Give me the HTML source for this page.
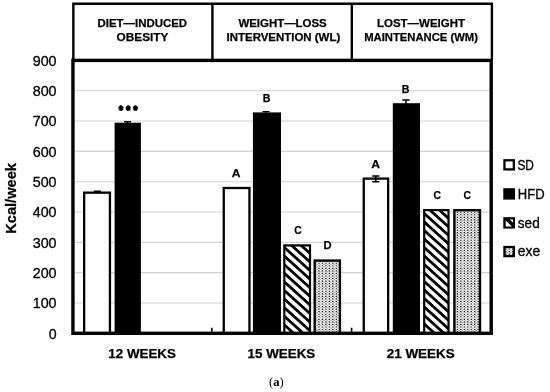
<!DOCTYPE html>
<html lang="en"><head><meta charset="utf-8"><title>Figure (a) Kcal/week</title>
<style>html,body{margin:0;padding:0;background:#fff}svg{display:block}</style>
</head><body>
<svg width="550" height="392" viewBox="0 0 550 392">
<defs>
<pattern id="hatch" patternUnits="userSpaceOnUse" width="10" height="8.5" patternTransform="translate(0 -0.38) skewY(42)">
<rect x="0" y="0" width="10" height="8.5" fill="#fff"/>
<rect x="0" y="0" width="10" height="3.7" fill="#000"/>
</pattern>
<pattern id="hatchA" patternUnits="userSpaceOnUse" width="10" height="8.6" patternTransform="translate(0 6.8) skewY(42)">
<rect x="0" y="0" width="10" height="8.6" fill="#fff"/>
<rect x="0" y="0" width="10" height="3.7" fill="#000"/>
</pattern>
</defs>
<rect x="0" y="0" width="550" height="392" fill="#fff"/>
<line x1="72.95" x2="491.2" y1="302.98" y2="302.98" stroke="#d2d2d2" stroke-width="1.1"/>
<line x1="72.95" x2="491.2" y1="272.66" y2="272.66" stroke="#d2d2d2" stroke-width="1.1"/>
<line x1="72.95" x2="491.2" y1="242.33" y2="242.33" stroke="#d2d2d2" stroke-width="1.1"/>
<line x1="72.95" x2="491.2" y1="212.01" y2="212.01" stroke="#d2d2d2" stroke-width="1.1"/>
<line x1="72.95" x2="491.2" y1="181.69" y2="181.69" stroke="#d2d2d2" stroke-width="1.1"/>
<line x1="72.95" x2="491.2" y1="151.37" y2="151.37" stroke="#d2d2d2" stroke-width="1.1"/>
<line x1="72.95" x2="491.2" y1="121.05" y2="121.05" stroke="#d2d2d2" stroke-width="1.1"/>
<line x1="72.95" x2="491.2" y1="90.72" y2="90.72" stroke="#d2d2d2" stroke-width="1.1"/>
<rect x="84.15" y="192.65" width="25.80" height="140.65" fill="#fff" stroke="#000" stroke-width="2.3"/>
<rect x="114.6" y="122.7" width="26.30" height="210.60" fill="#000"/>
<rect x="223.75" y="188.00" width="25.70" height="145.30" fill="#fff" stroke="#000" stroke-width="2.3"/>
<rect x="252.9" y="112.4" width="28.10" height="220.90" fill="#000"/>
<rect x="284.30" y="245.40" width="25.70" height="87.90" fill="url(#hatchA)" stroke="#000" stroke-width="2.2"/>
<rect x="314.70" y="260.60" width="25.20" height="72.70" fill="#fff"/>
<path d="M316.11 261.15h1.85v1.25h-1.85zM319.57 261.15h1.85v1.25h-1.85zM323.03 261.15h1.85v1.25h-1.85zM326.49 261.15h1.85v1.25h-1.85zM329.95 261.15h1.85v1.25h-1.85zM333.41 261.15h1.85v1.25h-1.85zM336.87 261.15h1.85v1.25h-1.85zM316.11 263.70h1.85v1.25h-1.85zM319.57 263.70h1.85v1.25h-1.85zM323.03 263.70h1.85v1.25h-1.85zM326.49 263.70h1.85v1.25h-1.85zM329.95 263.70h1.85v1.25h-1.85zM333.41 263.70h1.85v1.25h-1.85zM336.87 263.70h1.85v1.25h-1.85zM316.11 266.25h1.85v1.25h-1.85zM319.57 266.25h1.85v1.25h-1.85zM323.03 266.25h1.85v1.25h-1.85zM326.49 266.25h1.85v1.25h-1.85zM329.95 266.25h1.85v1.25h-1.85zM333.41 266.25h1.85v1.25h-1.85zM336.87 266.25h1.85v1.25h-1.85zM316.11 268.80h1.85v1.25h-1.85zM319.57 268.80h1.85v1.25h-1.85zM323.03 268.80h1.85v1.25h-1.85zM326.49 268.80h1.85v1.25h-1.85zM329.95 268.80h1.85v1.25h-1.85zM333.41 268.80h1.85v1.25h-1.85zM336.87 268.80h1.85v1.25h-1.85zM316.11 271.35h1.85v1.25h-1.85zM319.57 271.35h1.85v1.25h-1.85zM323.03 271.35h1.85v1.25h-1.85zM326.49 271.35h1.85v1.25h-1.85zM329.95 271.35h1.85v1.25h-1.85zM333.41 271.35h1.85v1.25h-1.85zM336.87 271.35h1.85v1.25h-1.85zM316.11 273.90h1.85v1.25h-1.85zM319.57 273.90h1.85v1.25h-1.85zM323.03 273.90h1.85v1.25h-1.85zM326.49 273.90h1.85v1.25h-1.85zM329.95 273.90h1.85v1.25h-1.85zM333.41 273.90h1.85v1.25h-1.85zM336.87 273.90h1.85v1.25h-1.85zM316.11 276.45h1.85v1.25h-1.85zM319.57 276.45h1.85v1.25h-1.85zM323.03 276.45h1.85v1.25h-1.85zM326.49 276.45h1.85v1.25h-1.85zM329.95 276.45h1.85v1.25h-1.85zM333.41 276.45h1.85v1.25h-1.85zM336.87 276.45h1.85v1.25h-1.85zM316.11 279.00h1.85v1.25h-1.85zM319.57 279.00h1.85v1.25h-1.85zM323.03 279.00h1.85v1.25h-1.85zM326.49 279.00h1.85v1.25h-1.85zM329.95 279.00h1.85v1.25h-1.85zM333.41 279.00h1.85v1.25h-1.85zM336.87 279.00h1.85v1.25h-1.85zM316.11 281.55h1.85v1.25h-1.85zM319.57 281.55h1.85v1.25h-1.85zM323.03 281.55h1.85v1.25h-1.85zM326.49 281.55h1.85v1.25h-1.85zM329.95 281.55h1.85v1.25h-1.85zM333.41 281.55h1.85v1.25h-1.85zM336.87 281.55h1.85v1.25h-1.85zM316.11 284.10h1.85v1.25h-1.85zM319.57 284.10h1.85v1.25h-1.85zM323.03 284.10h1.85v1.25h-1.85zM326.49 284.10h1.85v1.25h-1.85zM329.95 284.10h1.85v1.25h-1.85zM333.41 284.10h1.85v1.25h-1.85zM336.87 284.10h1.85v1.25h-1.85zM316.11 286.65h1.85v1.25h-1.85zM319.57 286.65h1.85v1.25h-1.85zM323.03 286.65h1.85v1.25h-1.85zM326.49 286.65h1.85v1.25h-1.85zM329.95 286.65h1.85v1.25h-1.85zM333.41 286.65h1.85v1.25h-1.85zM336.87 286.65h1.85v1.25h-1.85zM316.11 289.20h1.85v1.25h-1.85zM319.57 289.20h1.85v1.25h-1.85zM323.03 289.20h1.85v1.25h-1.85zM326.49 289.20h1.85v1.25h-1.85zM329.95 289.20h1.85v1.25h-1.85zM333.41 289.20h1.85v1.25h-1.85zM336.87 289.20h1.85v1.25h-1.85zM316.11 291.75h1.85v1.25h-1.85zM319.57 291.75h1.85v1.25h-1.85zM323.03 291.75h1.85v1.25h-1.85zM326.49 291.75h1.85v1.25h-1.85zM329.95 291.75h1.85v1.25h-1.85zM333.41 291.75h1.85v1.25h-1.85zM336.87 291.75h1.85v1.25h-1.85zM316.11 294.30h1.85v1.25h-1.85zM319.57 294.30h1.85v1.25h-1.85zM323.03 294.30h1.85v1.25h-1.85zM326.49 294.30h1.85v1.25h-1.85zM329.95 294.30h1.85v1.25h-1.85zM333.41 294.30h1.85v1.25h-1.85zM336.87 294.30h1.85v1.25h-1.85zM316.11 296.85h1.85v1.25h-1.85zM319.57 296.85h1.85v1.25h-1.85zM323.03 296.85h1.85v1.25h-1.85zM326.49 296.85h1.85v1.25h-1.85zM329.95 296.85h1.85v1.25h-1.85zM333.41 296.85h1.85v1.25h-1.85zM336.87 296.85h1.85v1.25h-1.85zM316.11 299.40h1.85v1.25h-1.85zM319.57 299.40h1.85v1.25h-1.85zM323.03 299.40h1.85v1.25h-1.85zM326.49 299.40h1.85v1.25h-1.85zM329.95 299.40h1.85v1.25h-1.85zM333.41 299.40h1.85v1.25h-1.85zM336.87 299.40h1.85v1.25h-1.85zM316.11 301.95h1.85v1.25h-1.85zM319.57 301.95h1.85v1.25h-1.85zM323.03 301.95h1.85v1.25h-1.85zM326.49 301.95h1.85v1.25h-1.85zM329.95 301.95h1.85v1.25h-1.85zM333.41 301.95h1.85v1.25h-1.85zM336.87 301.95h1.85v1.25h-1.85zM316.11 304.50h1.85v1.25h-1.85zM319.57 304.50h1.85v1.25h-1.85zM323.03 304.50h1.85v1.25h-1.85zM326.49 304.50h1.85v1.25h-1.85zM329.95 304.50h1.85v1.25h-1.85zM333.41 304.50h1.85v1.25h-1.85zM336.87 304.50h1.85v1.25h-1.85zM316.11 307.05h1.85v1.25h-1.85zM319.57 307.05h1.85v1.25h-1.85zM323.03 307.05h1.85v1.25h-1.85zM326.49 307.05h1.85v1.25h-1.85zM329.95 307.05h1.85v1.25h-1.85zM333.41 307.05h1.85v1.25h-1.85zM336.87 307.05h1.85v1.25h-1.85zM316.11 309.60h1.85v1.25h-1.85zM319.57 309.60h1.85v1.25h-1.85zM323.03 309.60h1.85v1.25h-1.85zM326.49 309.60h1.85v1.25h-1.85zM329.95 309.60h1.85v1.25h-1.85zM333.41 309.60h1.85v1.25h-1.85zM336.87 309.60h1.85v1.25h-1.85zM316.11 312.15h1.85v1.25h-1.85zM319.57 312.15h1.85v1.25h-1.85zM323.03 312.15h1.85v1.25h-1.85zM326.49 312.15h1.85v1.25h-1.85zM329.95 312.15h1.85v1.25h-1.85zM333.41 312.15h1.85v1.25h-1.85zM336.87 312.15h1.85v1.25h-1.85zM316.11 314.70h1.85v1.25h-1.85zM319.57 314.70h1.85v1.25h-1.85zM323.03 314.70h1.85v1.25h-1.85zM326.49 314.70h1.85v1.25h-1.85zM329.95 314.70h1.85v1.25h-1.85zM333.41 314.70h1.85v1.25h-1.85zM336.87 314.70h1.85v1.25h-1.85zM316.11 317.25h1.85v1.25h-1.85zM319.57 317.25h1.85v1.25h-1.85zM323.03 317.25h1.85v1.25h-1.85zM326.49 317.25h1.85v1.25h-1.85zM329.95 317.25h1.85v1.25h-1.85zM333.41 317.25h1.85v1.25h-1.85zM336.87 317.25h1.85v1.25h-1.85zM316.11 319.80h1.85v1.25h-1.85zM319.57 319.80h1.85v1.25h-1.85zM323.03 319.80h1.85v1.25h-1.85zM326.49 319.80h1.85v1.25h-1.85zM329.95 319.80h1.85v1.25h-1.85zM333.41 319.80h1.85v1.25h-1.85zM336.87 319.80h1.85v1.25h-1.85zM316.11 322.35h1.85v1.25h-1.85zM319.57 322.35h1.85v1.25h-1.85zM323.03 322.35h1.85v1.25h-1.85zM326.49 322.35h1.85v1.25h-1.85zM329.95 322.35h1.85v1.25h-1.85zM333.41 322.35h1.85v1.25h-1.85zM336.87 322.35h1.85v1.25h-1.85zM316.11 324.90h1.85v1.25h-1.85zM319.57 324.90h1.85v1.25h-1.85zM323.03 324.90h1.85v1.25h-1.85zM326.49 324.90h1.85v1.25h-1.85zM329.95 324.90h1.85v1.25h-1.85zM333.41 324.90h1.85v1.25h-1.85zM336.87 324.90h1.85v1.25h-1.85zM316.11 327.45h1.85v1.25h-1.85zM319.57 327.45h1.85v1.25h-1.85zM323.03 327.45h1.85v1.25h-1.85zM326.49 327.45h1.85v1.25h-1.85zM329.95 327.45h1.85v1.25h-1.85zM333.41 327.45h1.85v1.25h-1.85zM336.87 327.45h1.85v1.25h-1.85zM316.11 330.00h1.85v1.25h-1.85zM319.57 330.00h1.85v1.25h-1.85zM323.03 330.00h1.85v1.25h-1.85zM326.49 330.00h1.85v1.25h-1.85zM329.95 330.00h1.85v1.25h-1.85zM333.41 330.00h1.85v1.25h-1.85zM336.87 330.00h1.85v1.25h-1.85zM316.11 332.55h1.85v0.75h-1.85zM319.57 332.55h1.85v0.75h-1.85zM323.03 332.55h1.85v0.75h-1.85zM326.49 332.55h1.85v0.75h-1.85zM329.95 332.55h1.85v0.75h-1.85zM333.41 332.55h1.85v0.75h-1.85zM336.87 332.55h1.85v0.75h-1.85z" fill="#b0b0b0"/>
<path d="M314.86 260.60h1.30v0.65h-1.30zM318.32 260.60h1.30v0.65h-1.30zM321.78 260.60h1.30v0.65h-1.30zM325.24 260.60h1.30v0.65h-1.30zM328.70 260.60h1.30v0.65h-1.30zM332.16 260.60h1.30v0.65h-1.30zM335.62 260.60h1.30v0.65h-1.30zM339.08 260.60h0.82v0.65h-0.82zM314.86 262.65h1.30v1.15h-1.30zM318.32 262.65h1.30v1.15h-1.30zM321.78 262.65h1.30v1.15h-1.30zM325.24 262.65h1.30v1.15h-1.30zM328.70 262.65h1.30v1.15h-1.30zM332.16 262.65h1.30v1.15h-1.30zM335.62 262.65h1.30v1.15h-1.30zM339.08 262.65h0.82v1.15h-0.82zM314.86 265.20h1.30v1.15h-1.30zM318.32 265.20h1.30v1.15h-1.30zM321.78 265.20h1.30v1.15h-1.30zM325.24 265.20h1.30v1.15h-1.30zM328.70 265.20h1.30v1.15h-1.30zM332.16 265.20h1.30v1.15h-1.30zM335.62 265.20h1.30v1.15h-1.30zM339.08 265.20h0.82v1.15h-0.82zM314.86 267.75h1.30v1.15h-1.30zM318.32 267.75h1.30v1.15h-1.30zM321.78 267.75h1.30v1.15h-1.30zM325.24 267.75h1.30v1.15h-1.30zM328.70 267.75h1.30v1.15h-1.30zM332.16 267.75h1.30v1.15h-1.30zM335.62 267.75h1.30v1.15h-1.30zM339.08 267.75h0.82v1.15h-0.82zM314.86 270.30h1.30v1.15h-1.30zM318.32 270.30h1.30v1.15h-1.30zM321.78 270.30h1.30v1.15h-1.30zM325.24 270.30h1.30v1.15h-1.30zM328.70 270.30h1.30v1.15h-1.30zM332.16 270.30h1.30v1.15h-1.30zM335.62 270.30h1.30v1.15h-1.30zM339.08 270.30h0.82v1.15h-0.82zM314.86 272.85h1.30v1.15h-1.30zM318.32 272.85h1.30v1.15h-1.30zM321.78 272.85h1.30v1.15h-1.30zM325.24 272.85h1.30v1.15h-1.30zM328.70 272.85h1.30v1.15h-1.30zM332.16 272.85h1.30v1.15h-1.30zM335.62 272.85h1.30v1.15h-1.30zM339.08 272.85h0.82v1.15h-0.82zM314.86 275.40h1.30v1.15h-1.30zM318.32 275.40h1.30v1.15h-1.30zM321.78 275.40h1.30v1.15h-1.30zM325.24 275.40h1.30v1.15h-1.30zM328.70 275.40h1.30v1.15h-1.30zM332.16 275.40h1.30v1.15h-1.30zM335.62 275.40h1.30v1.15h-1.30zM339.08 275.40h0.82v1.15h-0.82zM314.86 277.95h1.30v1.15h-1.30zM318.32 277.95h1.30v1.15h-1.30zM321.78 277.95h1.30v1.15h-1.30zM325.24 277.95h1.30v1.15h-1.30zM328.70 277.95h1.30v1.15h-1.30zM332.16 277.95h1.30v1.15h-1.30zM335.62 277.95h1.30v1.15h-1.30zM339.08 277.95h0.82v1.15h-0.82zM314.86 280.50h1.30v1.15h-1.30zM318.32 280.50h1.30v1.15h-1.30zM321.78 280.50h1.30v1.15h-1.30zM325.24 280.50h1.30v1.15h-1.30zM328.70 280.50h1.30v1.15h-1.30zM332.16 280.50h1.30v1.15h-1.30zM335.62 280.50h1.30v1.15h-1.30zM339.08 280.50h0.82v1.15h-0.82zM314.86 283.05h1.30v1.15h-1.30zM318.32 283.05h1.30v1.15h-1.30zM321.78 283.05h1.30v1.15h-1.30zM325.24 283.05h1.30v1.15h-1.30zM328.70 283.05h1.30v1.15h-1.30zM332.16 283.05h1.30v1.15h-1.30zM335.62 283.05h1.30v1.15h-1.30zM339.08 283.05h0.82v1.15h-0.82zM314.86 285.60h1.30v1.15h-1.30zM318.32 285.60h1.30v1.15h-1.30zM321.78 285.60h1.30v1.15h-1.30zM325.24 285.60h1.30v1.15h-1.30zM328.70 285.60h1.30v1.15h-1.30zM332.16 285.60h1.30v1.15h-1.30zM335.62 285.60h1.30v1.15h-1.30zM339.08 285.60h0.82v1.15h-0.82zM314.86 288.15h1.30v1.15h-1.30zM318.32 288.15h1.30v1.15h-1.30zM321.78 288.15h1.30v1.15h-1.30zM325.24 288.15h1.30v1.15h-1.30zM328.70 288.15h1.30v1.15h-1.30zM332.16 288.15h1.30v1.15h-1.30zM335.62 288.15h1.30v1.15h-1.30zM339.08 288.15h0.82v1.15h-0.82zM314.86 290.70h1.30v1.15h-1.30zM318.32 290.70h1.30v1.15h-1.30zM321.78 290.70h1.30v1.15h-1.30zM325.24 290.70h1.30v1.15h-1.30zM328.70 290.70h1.30v1.15h-1.30zM332.16 290.70h1.30v1.15h-1.30zM335.62 290.70h1.30v1.15h-1.30zM339.08 290.70h0.82v1.15h-0.82zM314.86 293.25h1.30v1.15h-1.30zM318.32 293.25h1.30v1.15h-1.30zM321.78 293.25h1.30v1.15h-1.30zM325.24 293.25h1.30v1.15h-1.30zM328.70 293.25h1.30v1.15h-1.30zM332.16 293.25h1.30v1.15h-1.30zM335.62 293.25h1.30v1.15h-1.30zM339.08 293.25h0.82v1.15h-0.82zM314.86 295.80h1.30v1.15h-1.30zM318.32 295.80h1.30v1.15h-1.30zM321.78 295.80h1.30v1.15h-1.30zM325.24 295.80h1.30v1.15h-1.30zM328.70 295.80h1.30v1.15h-1.30zM332.16 295.80h1.30v1.15h-1.30zM335.62 295.80h1.30v1.15h-1.30zM339.08 295.80h0.82v1.15h-0.82zM314.86 298.35h1.30v1.15h-1.30zM318.32 298.35h1.30v1.15h-1.30zM321.78 298.35h1.30v1.15h-1.30zM325.24 298.35h1.30v1.15h-1.30zM328.70 298.35h1.30v1.15h-1.30zM332.16 298.35h1.30v1.15h-1.30zM335.62 298.35h1.30v1.15h-1.30zM339.08 298.35h0.82v1.15h-0.82zM314.86 300.90h1.30v1.15h-1.30zM318.32 300.90h1.30v1.15h-1.30zM321.78 300.90h1.30v1.15h-1.30zM325.24 300.90h1.30v1.15h-1.30zM328.70 300.90h1.30v1.15h-1.30zM332.16 300.90h1.30v1.15h-1.30zM335.62 300.90h1.30v1.15h-1.30zM339.08 300.90h0.82v1.15h-0.82zM314.86 303.45h1.30v1.15h-1.30zM318.32 303.45h1.30v1.15h-1.30zM321.78 303.45h1.30v1.15h-1.30zM325.24 303.45h1.30v1.15h-1.30zM328.70 303.45h1.30v1.15h-1.30zM332.16 303.45h1.30v1.15h-1.30zM335.62 303.45h1.30v1.15h-1.30zM339.08 303.45h0.82v1.15h-0.82zM314.86 306.00h1.30v1.15h-1.30zM318.32 306.00h1.30v1.15h-1.30zM321.78 306.00h1.30v1.15h-1.30zM325.24 306.00h1.30v1.15h-1.30zM328.70 306.00h1.30v1.15h-1.30zM332.16 306.00h1.30v1.15h-1.30zM335.62 306.00h1.30v1.15h-1.30zM339.08 306.00h0.82v1.15h-0.82zM314.86 308.55h1.30v1.15h-1.30zM318.32 308.55h1.30v1.15h-1.30zM321.78 308.55h1.30v1.15h-1.30zM325.24 308.55h1.30v1.15h-1.30zM328.70 308.55h1.30v1.15h-1.30zM332.16 308.55h1.30v1.15h-1.30zM335.62 308.55h1.30v1.15h-1.30zM339.08 308.55h0.82v1.15h-0.82zM314.86 311.10h1.30v1.15h-1.30zM318.32 311.10h1.30v1.15h-1.30zM321.78 311.10h1.30v1.15h-1.30zM325.24 311.10h1.30v1.15h-1.30zM328.70 311.10h1.30v1.15h-1.30zM332.16 311.10h1.30v1.15h-1.30zM335.62 311.10h1.30v1.15h-1.30zM339.08 311.10h0.82v1.15h-0.82zM314.86 313.65h1.30v1.15h-1.30zM318.32 313.65h1.30v1.15h-1.30zM321.78 313.65h1.30v1.15h-1.30zM325.24 313.65h1.30v1.15h-1.30zM328.70 313.65h1.30v1.15h-1.30zM332.16 313.65h1.30v1.15h-1.30zM335.62 313.65h1.30v1.15h-1.30zM339.08 313.65h0.82v1.15h-0.82zM314.86 316.20h1.30v1.15h-1.30zM318.32 316.20h1.30v1.15h-1.30zM321.78 316.20h1.30v1.15h-1.30zM325.24 316.20h1.30v1.15h-1.30zM328.70 316.20h1.30v1.15h-1.30zM332.16 316.20h1.30v1.15h-1.30zM335.62 316.20h1.30v1.15h-1.30zM339.08 316.20h0.82v1.15h-0.82zM314.86 318.75h1.30v1.15h-1.30zM318.32 318.75h1.30v1.15h-1.30zM321.78 318.75h1.30v1.15h-1.30zM325.24 318.75h1.30v1.15h-1.30zM328.70 318.75h1.30v1.15h-1.30zM332.16 318.75h1.30v1.15h-1.30zM335.62 318.75h1.30v1.15h-1.30zM339.08 318.75h0.82v1.15h-0.82zM314.86 321.30h1.30v1.15h-1.30zM318.32 321.30h1.30v1.15h-1.30zM321.78 321.30h1.30v1.15h-1.30zM325.24 321.30h1.30v1.15h-1.30zM328.70 321.30h1.30v1.15h-1.30zM332.16 321.30h1.30v1.15h-1.30zM335.62 321.30h1.30v1.15h-1.30zM339.08 321.30h0.82v1.15h-0.82zM314.86 323.85h1.30v1.15h-1.30zM318.32 323.85h1.30v1.15h-1.30zM321.78 323.85h1.30v1.15h-1.30zM325.24 323.85h1.30v1.15h-1.30zM328.70 323.85h1.30v1.15h-1.30zM332.16 323.85h1.30v1.15h-1.30zM335.62 323.85h1.30v1.15h-1.30zM339.08 323.85h0.82v1.15h-0.82zM314.86 326.40h1.30v1.15h-1.30zM318.32 326.40h1.30v1.15h-1.30zM321.78 326.40h1.30v1.15h-1.30zM325.24 326.40h1.30v1.15h-1.30zM328.70 326.40h1.30v1.15h-1.30zM332.16 326.40h1.30v1.15h-1.30zM335.62 326.40h1.30v1.15h-1.30zM339.08 326.40h0.82v1.15h-0.82zM314.86 328.95h1.30v1.15h-1.30zM318.32 328.95h1.30v1.15h-1.30zM321.78 328.95h1.30v1.15h-1.30zM325.24 328.95h1.30v1.15h-1.30zM328.70 328.95h1.30v1.15h-1.30zM332.16 328.95h1.30v1.15h-1.30zM335.62 328.95h1.30v1.15h-1.30zM339.08 328.95h0.82v1.15h-0.82zM314.86 331.50h1.30v1.15h-1.30zM318.32 331.50h1.30v1.15h-1.30zM321.78 331.50h1.30v1.15h-1.30zM325.24 331.50h1.30v1.15h-1.30zM328.70 331.50h1.30v1.15h-1.30zM332.16 331.50h1.30v1.15h-1.30zM335.62 331.50h1.30v1.15h-1.30zM339.08 331.50h0.82v1.15h-0.82z" fill="#000"/>
<rect x="314.70" y="260.60" width="25.20" height="72.70" fill="none" stroke="#000" stroke-width="2.4"/>
<rect x="363.75" y="178.60" width="24.40" height="154.70" fill="#fff" stroke="#000" stroke-width="2.3"/>
<rect x="392.8" y="103.2" width="27.20" height="230.10" fill="#000"/>
<rect x="424.20" y="210.10" width="24.30" height="123.20" fill="url(#hatch)" stroke="#000" stroke-width="2.2"/>
<rect x="454.40" y="210.20" width="25.60" height="123.10" fill="#fff"/>
<path d="M454.51 210.20h1.85v1.20h-1.85zM457.97 210.20h1.85v1.20h-1.85zM461.43 210.20h1.85v1.20h-1.85zM464.89 210.20h1.85v1.20h-1.85zM468.35 210.20h1.85v1.20h-1.85zM471.81 210.20h1.85v1.20h-1.85zM475.27 210.20h1.85v1.20h-1.85zM478.73 210.20h1.27v1.20h-1.27zM454.51 212.70h1.85v1.25h-1.85zM457.97 212.70h1.85v1.25h-1.85zM461.43 212.70h1.85v1.25h-1.85zM464.89 212.70h1.85v1.25h-1.85zM468.35 212.70h1.85v1.25h-1.85zM471.81 212.70h1.85v1.25h-1.85zM475.27 212.70h1.85v1.25h-1.85zM478.73 212.70h1.27v1.25h-1.27zM454.51 215.25h1.85v1.25h-1.85zM457.97 215.25h1.85v1.25h-1.85zM461.43 215.25h1.85v1.25h-1.85zM464.89 215.25h1.85v1.25h-1.85zM468.35 215.25h1.85v1.25h-1.85zM471.81 215.25h1.85v1.25h-1.85zM475.27 215.25h1.85v1.25h-1.85zM478.73 215.25h1.27v1.25h-1.27zM454.51 217.80h1.85v1.25h-1.85zM457.97 217.80h1.85v1.25h-1.85zM461.43 217.80h1.85v1.25h-1.85zM464.89 217.80h1.85v1.25h-1.85zM468.35 217.80h1.85v1.25h-1.85zM471.81 217.80h1.85v1.25h-1.85zM475.27 217.80h1.85v1.25h-1.85zM478.73 217.80h1.27v1.25h-1.27zM454.51 220.35h1.85v1.25h-1.85zM457.97 220.35h1.85v1.25h-1.85zM461.43 220.35h1.85v1.25h-1.85zM464.89 220.35h1.85v1.25h-1.85zM468.35 220.35h1.85v1.25h-1.85zM471.81 220.35h1.85v1.25h-1.85zM475.27 220.35h1.85v1.25h-1.85zM478.73 220.35h1.27v1.25h-1.27zM454.51 222.90h1.85v1.25h-1.85zM457.97 222.90h1.85v1.25h-1.85zM461.43 222.90h1.85v1.25h-1.85zM464.89 222.90h1.85v1.25h-1.85zM468.35 222.90h1.85v1.25h-1.85zM471.81 222.90h1.85v1.25h-1.85zM475.27 222.90h1.85v1.25h-1.85zM478.73 222.90h1.27v1.25h-1.27zM454.51 225.45h1.85v1.25h-1.85zM457.97 225.45h1.85v1.25h-1.85zM461.43 225.45h1.85v1.25h-1.85zM464.89 225.45h1.85v1.25h-1.85zM468.35 225.45h1.85v1.25h-1.85zM471.81 225.45h1.85v1.25h-1.85zM475.27 225.45h1.85v1.25h-1.85zM478.73 225.45h1.27v1.25h-1.27zM454.51 228.00h1.85v1.25h-1.85zM457.97 228.00h1.85v1.25h-1.85zM461.43 228.00h1.85v1.25h-1.85zM464.89 228.00h1.85v1.25h-1.85zM468.35 228.00h1.85v1.25h-1.85zM471.81 228.00h1.85v1.25h-1.85zM475.27 228.00h1.85v1.25h-1.85zM478.73 228.00h1.27v1.25h-1.27zM454.51 230.55h1.85v1.25h-1.85zM457.97 230.55h1.85v1.25h-1.85zM461.43 230.55h1.85v1.25h-1.85zM464.89 230.55h1.85v1.25h-1.85zM468.35 230.55h1.85v1.25h-1.85zM471.81 230.55h1.85v1.25h-1.85zM475.27 230.55h1.85v1.25h-1.85zM478.73 230.55h1.27v1.25h-1.27zM454.51 233.10h1.85v1.25h-1.85zM457.97 233.10h1.85v1.25h-1.85zM461.43 233.10h1.85v1.25h-1.85zM464.89 233.10h1.85v1.25h-1.85zM468.35 233.10h1.85v1.25h-1.85zM471.81 233.10h1.85v1.25h-1.85zM475.27 233.10h1.85v1.25h-1.85zM478.73 233.10h1.27v1.25h-1.27zM454.51 235.65h1.85v1.25h-1.85zM457.97 235.65h1.85v1.25h-1.85zM461.43 235.65h1.85v1.25h-1.85zM464.89 235.65h1.85v1.25h-1.85zM468.35 235.65h1.85v1.25h-1.85zM471.81 235.65h1.85v1.25h-1.85zM475.27 235.65h1.85v1.25h-1.85zM478.73 235.65h1.27v1.25h-1.27zM454.51 238.20h1.85v1.25h-1.85zM457.97 238.20h1.85v1.25h-1.85zM461.43 238.20h1.85v1.25h-1.85zM464.89 238.20h1.85v1.25h-1.85zM468.35 238.20h1.85v1.25h-1.85zM471.81 238.20h1.85v1.25h-1.85zM475.27 238.20h1.85v1.25h-1.85zM478.73 238.20h1.27v1.25h-1.27zM454.51 240.75h1.85v1.25h-1.85zM457.97 240.75h1.85v1.25h-1.85zM461.43 240.75h1.85v1.25h-1.85zM464.89 240.75h1.85v1.25h-1.85zM468.35 240.75h1.85v1.25h-1.85zM471.81 240.75h1.85v1.25h-1.85zM475.27 240.75h1.85v1.25h-1.85zM478.73 240.75h1.27v1.25h-1.27zM454.51 243.30h1.85v1.25h-1.85zM457.97 243.30h1.85v1.25h-1.85zM461.43 243.30h1.85v1.25h-1.85zM464.89 243.30h1.85v1.25h-1.85zM468.35 243.30h1.85v1.25h-1.85zM471.81 243.30h1.85v1.25h-1.85zM475.27 243.30h1.85v1.25h-1.85zM478.73 243.30h1.27v1.25h-1.27zM454.51 245.85h1.85v1.25h-1.85zM457.97 245.85h1.85v1.25h-1.85zM461.43 245.85h1.85v1.25h-1.85zM464.89 245.85h1.85v1.25h-1.85zM468.35 245.85h1.85v1.25h-1.85zM471.81 245.85h1.85v1.25h-1.85zM475.27 245.85h1.85v1.25h-1.85zM478.73 245.85h1.27v1.25h-1.27zM454.51 248.40h1.85v1.25h-1.85zM457.97 248.40h1.85v1.25h-1.85zM461.43 248.40h1.85v1.25h-1.85zM464.89 248.40h1.85v1.25h-1.85zM468.35 248.40h1.85v1.25h-1.85zM471.81 248.40h1.85v1.25h-1.85zM475.27 248.40h1.85v1.25h-1.85zM478.73 248.40h1.27v1.25h-1.27zM454.51 250.95h1.85v1.25h-1.85zM457.97 250.95h1.85v1.25h-1.85zM461.43 250.95h1.85v1.25h-1.85zM464.89 250.95h1.85v1.25h-1.85zM468.35 250.95h1.85v1.25h-1.85zM471.81 250.95h1.85v1.25h-1.85zM475.27 250.95h1.85v1.25h-1.85zM478.73 250.95h1.27v1.25h-1.27zM454.51 253.50h1.85v1.25h-1.85zM457.97 253.50h1.85v1.25h-1.85zM461.43 253.50h1.85v1.25h-1.85zM464.89 253.50h1.85v1.25h-1.85zM468.35 253.50h1.85v1.25h-1.85zM471.81 253.50h1.85v1.25h-1.85zM475.27 253.50h1.85v1.25h-1.85zM478.73 253.50h1.27v1.25h-1.27zM454.51 256.05h1.85v1.25h-1.85zM457.97 256.05h1.85v1.25h-1.85zM461.43 256.05h1.85v1.25h-1.85zM464.89 256.05h1.85v1.25h-1.85zM468.35 256.05h1.85v1.25h-1.85zM471.81 256.05h1.85v1.25h-1.85zM475.27 256.05h1.85v1.25h-1.85zM478.73 256.05h1.27v1.25h-1.27zM454.51 258.60h1.85v1.25h-1.85zM457.97 258.60h1.85v1.25h-1.85zM461.43 258.60h1.85v1.25h-1.85zM464.89 258.60h1.85v1.25h-1.85zM468.35 258.60h1.85v1.25h-1.85zM471.81 258.60h1.85v1.25h-1.85zM475.27 258.60h1.85v1.25h-1.85zM478.73 258.60h1.27v1.25h-1.27zM454.51 261.15h1.85v1.25h-1.85zM457.97 261.15h1.85v1.25h-1.85zM461.43 261.15h1.85v1.25h-1.85zM464.89 261.15h1.85v1.25h-1.85zM468.35 261.15h1.85v1.25h-1.85zM471.81 261.15h1.85v1.25h-1.85zM475.27 261.15h1.85v1.25h-1.85zM478.73 261.15h1.27v1.25h-1.27zM454.51 263.70h1.85v1.25h-1.85zM457.97 263.70h1.85v1.25h-1.85zM461.43 263.70h1.85v1.25h-1.85zM464.89 263.70h1.85v1.25h-1.85zM468.35 263.70h1.85v1.25h-1.85zM471.81 263.70h1.85v1.25h-1.85zM475.27 263.70h1.85v1.25h-1.85zM478.73 263.70h1.27v1.25h-1.27zM454.51 266.25h1.85v1.25h-1.85zM457.97 266.25h1.85v1.25h-1.85zM461.43 266.25h1.85v1.25h-1.85zM464.89 266.25h1.85v1.25h-1.85zM468.35 266.25h1.85v1.25h-1.85zM471.81 266.25h1.85v1.25h-1.85zM475.27 266.25h1.85v1.25h-1.85zM478.73 266.25h1.27v1.25h-1.27zM454.51 268.80h1.85v1.25h-1.85zM457.97 268.80h1.85v1.25h-1.85zM461.43 268.80h1.85v1.25h-1.85zM464.89 268.80h1.85v1.25h-1.85zM468.35 268.80h1.85v1.25h-1.85zM471.81 268.80h1.85v1.25h-1.85zM475.27 268.80h1.85v1.25h-1.85zM478.73 268.80h1.27v1.25h-1.27zM454.51 271.35h1.85v1.25h-1.85zM457.97 271.35h1.85v1.25h-1.85zM461.43 271.35h1.85v1.25h-1.85zM464.89 271.35h1.85v1.25h-1.85zM468.35 271.35h1.85v1.25h-1.85zM471.81 271.35h1.85v1.25h-1.85zM475.27 271.35h1.85v1.25h-1.85zM478.73 271.35h1.27v1.25h-1.27zM454.51 273.90h1.85v1.25h-1.85zM457.97 273.90h1.85v1.25h-1.85zM461.43 273.90h1.85v1.25h-1.85zM464.89 273.90h1.85v1.25h-1.85zM468.35 273.90h1.85v1.25h-1.85zM471.81 273.90h1.85v1.25h-1.85zM475.27 273.90h1.85v1.25h-1.85zM478.73 273.90h1.27v1.25h-1.27zM454.51 276.45h1.85v1.25h-1.85zM457.97 276.45h1.85v1.25h-1.85zM461.43 276.45h1.85v1.25h-1.85zM464.89 276.45h1.85v1.25h-1.85zM468.35 276.45h1.85v1.25h-1.85zM471.81 276.45h1.85v1.25h-1.85zM475.27 276.45h1.85v1.25h-1.85zM478.73 276.45h1.27v1.25h-1.27zM454.51 279.00h1.85v1.25h-1.85zM457.97 279.00h1.85v1.25h-1.85zM461.43 279.00h1.85v1.25h-1.85zM464.89 279.00h1.85v1.25h-1.85zM468.35 279.00h1.85v1.25h-1.85zM471.81 279.00h1.85v1.25h-1.85zM475.27 279.00h1.85v1.25h-1.85zM478.73 279.00h1.27v1.25h-1.27zM454.51 281.55h1.85v1.25h-1.85zM457.97 281.55h1.85v1.25h-1.85zM461.43 281.55h1.85v1.25h-1.85zM464.89 281.55h1.85v1.25h-1.85zM468.35 281.55h1.85v1.25h-1.85zM471.81 281.55h1.85v1.25h-1.85zM475.27 281.55h1.85v1.25h-1.85zM478.73 281.55h1.27v1.25h-1.27zM454.51 284.10h1.85v1.25h-1.85zM457.97 284.10h1.85v1.25h-1.85zM461.43 284.10h1.85v1.25h-1.85zM464.89 284.10h1.85v1.25h-1.85zM468.35 284.10h1.85v1.25h-1.85zM471.81 284.10h1.85v1.25h-1.85zM475.27 284.10h1.85v1.25h-1.85zM478.73 284.10h1.27v1.25h-1.27zM454.51 286.65h1.85v1.25h-1.85zM457.97 286.65h1.85v1.25h-1.85zM461.43 286.65h1.85v1.25h-1.85zM464.89 286.65h1.85v1.25h-1.85zM468.35 286.65h1.85v1.25h-1.85zM471.81 286.65h1.85v1.25h-1.85zM475.27 286.65h1.85v1.25h-1.85zM478.73 286.65h1.27v1.25h-1.27zM454.51 289.20h1.85v1.25h-1.85zM457.97 289.20h1.85v1.25h-1.85zM461.43 289.20h1.85v1.25h-1.85zM464.89 289.20h1.85v1.25h-1.85zM468.35 289.20h1.85v1.25h-1.85zM471.81 289.20h1.85v1.25h-1.85zM475.27 289.20h1.85v1.25h-1.85zM478.73 289.20h1.27v1.25h-1.27zM454.51 291.75h1.85v1.25h-1.85zM457.97 291.75h1.85v1.25h-1.85zM461.43 291.75h1.85v1.25h-1.85zM464.89 291.75h1.85v1.25h-1.85zM468.35 291.75h1.85v1.25h-1.85zM471.81 291.75h1.85v1.25h-1.85zM475.27 291.75h1.85v1.25h-1.85zM478.73 291.75h1.27v1.25h-1.27zM454.51 294.30h1.85v1.25h-1.85zM457.97 294.30h1.85v1.25h-1.85zM461.43 294.30h1.85v1.25h-1.85zM464.89 294.30h1.85v1.25h-1.85zM468.35 294.30h1.85v1.25h-1.85zM471.81 294.30h1.85v1.25h-1.85zM475.27 294.30h1.85v1.25h-1.85zM478.73 294.30h1.27v1.25h-1.27zM454.51 296.85h1.85v1.25h-1.85zM457.97 296.85h1.85v1.25h-1.85zM461.43 296.85h1.85v1.25h-1.85zM464.89 296.85h1.85v1.25h-1.85zM468.35 296.85h1.85v1.25h-1.85zM471.81 296.85h1.85v1.25h-1.85zM475.27 296.85h1.85v1.25h-1.85zM478.73 296.85h1.27v1.25h-1.27zM454.51 299.40h1.85v1.25h-1.85zM457.97 299.40h1.85v1.25h-1.85zM461.43 299.40h1.85v1.25h-1.85zM464.89 299.40h1.85v1.25h-1.85zM468.35 299.40h1.85v1.25h-1.85zM471.81 299.40h1.85v1.25h-1.85zM475.27 299.40h1.85v1.25h-1.85zM478.73 299.40h1.27v1.25h-1.27zM454.51 301.95h1.85v1.25h-1.85zM457.97 301.95h1.85v1.25h-1.85zM461.43 301.95h1.85v1.25h-1.85zM464.89 301.95h1.85v1.25h-1.85zM468.35 301.95h1.85v1.25h-1.85zM471.81 301.95h1.85v1.25h-1.85zM475.27 301.95h1.85v1.25h-1.85zM478.73 301.95h1.27v1.25h-1.27zM454.51 304.50h1.85v1.25h-1.85zM457.97 304.50h1.85v1.25h-1.85zM461.43 304.50h1.85v1.25h-1.85zM464.89 304.50h1.85v1.25h-1.85zM468.35 304.50h1.85v1.25h-1.85zM471.81 304.50h1.85v1.25h-1.85zM475.27 304.50h1.85v1.25h-1.85zM478.73 304.50h1.27v1.25h-1.27zM454.51 307.05h1.85v1.25h-1.85zM457.97 307.05h1.85v1.25h-1.85zM461.43 307.05h1.85v1.25h-1.85zM464.89 307.05h1.85v1.25h-1.85zM468.35 307.05h1.85v1.25h-1.85zM471.81 307.05h1.85v1.25h-1.85zM475.27 307.05h1.85v1.25h-1.85zM478.73 307.05h1.27v1.25h-1.27zM454.51 309.60h1.85v1.25h-1.85zM457.97 309.60h1.85v1.25h-1.85zM461.43 309.60h1.85v1.25h-1.85zM464.89 309.60h1.85v1.25h-1.85zM468.35 309.60h1.85v1.25h-1.85zM471.81 309.60h1.85v1.25h-1.85zM475.27 309.60h1.85v1.25h-1.85zM478.73 309.60h1.27v1.25h-1.27zM454.51 312.15h1.85v1.25h-1.85zM457.97 312.15h1.85v1.25h-1.85zM461.43 312.15h1.85v1.25h-1.85zM464.89 312.15h1.85v1.25h-1.85zM468.35 312.15h1.85v1.25h-1.85zM471.81 312.15h1.85v1.25h-1.85zM475.27 312.15h1.85v1.25h-1.85zM478.73 312.15h1.27v1.25h-1.27zM454.51 314.70h1.85v1.25h-1.85zM457.97 314.70h1.85v1.25h-1.85zM461.43 314.70h1.85v1.25h-1.85zM464.89 314.70h1.85v1.25h-1.85zM468.35 314.70h1.85v1.25h-1.85zM471.81 314.70h1.85v1.25h-1.85zM475.27 314.70h1.85v1.25h-1.85zM478.73 314.70h1.27v1.25h-1.27zM454.51 317.25h1.85v1.25h-1.85zM457.97 317.25h1.85v1.25h-1.85zM461.43 317.25h1.85v1.25h-1.85zM464.89 317.25h1.85v1.25h-1.85zM468.35 317.25h1.85v1.25h-1.85zM471.81 317.25h1.85v1.25h-1.85zM475.27 317.25h1.85v1.25h-1.85zM478.73 317.25h1.27v1.25h-1.27zM454.51 319.80h1.85v1.25h-1.85zM457.97 319.80h1.85v1.25h-1.85zM461.43 319.80h1.85v1.25h-1.85zM464.89 319.80h1.85v1.25h-1.85zM468.35 319.80h1.85v1.25h-1.85zM471.81 319.80h1.85v1.25h-1.85zM475.27 319.80h1.85v1.25h-1.85zM478.73 319.80h1.27v1.25h-1.27zM454.51 322.35h1.85v1.25h-1.85zM457.97 322.35h1.85v1.25h-1.85zM461.43 322.35h1.85v1.25h-1.85zM464.89 322.35h1.85v1.25h-1.85zM468.35 322.35h1.85v1.25h-1.85zM471.81 322.35h1.85v1.25h-1.85zM475.27 322.35h1.85v1.25h-1.85zM478.73 322.35h1.27v1.25h-1.27zM454.51 324.90h1.85v1.25h-1.85zM457.97 324.90h1.85v1.25h-1.85zM461.43 324.90h1.85v1.25h-1.85zM464.89 324.90h1.85v1.25h-1.85zM468.35 324.90h1.85v1.25h-1.85zM471.81 324.90h1.85v1.25h-1.85zM475.27 324.90h1.85v1.25h-1.85zM478.73 324.90h1.27v1.25h-1.27zM454.51 327.45h1.85v1.25h-1.85zM457.97 327.45h1.85v1.25h-1.85zM461.43 327.45h1.85v1.25h-1.85zM464.89 327.45h1.85v1.25h-1.85zM468.35 327.45h1.85v1.25h-1.85zM471.81 327.45h1.85v1.25h-1.85zM475.27 327.45h1.85v1.25h-1.85zM478.73 327.45h1.27v1.25h-1.27zM454.51 330.00h1.85v1.25h-1.85zM457.97 330.00h1.85v1.25h-1.85zM461.43 330.00h1.85v1.25h-1.85zM464.89 330.00h1.85v1.25h-1.85zM468.35 330.00h1.85v1.25h-1.85zM471.81 330.00h1.85v1.25h-1.85zM475.27 330.00h1.85v1.25h-1.85zM478.73 330.00h1.27v1.25h-1.27zM454.51 332.55h1.85v0.75h-1.85zM457.97 332.55h1.85v0.75h-1.85zM461.43 332.55h1.85v0.75h-1.85zM464.89 332.55h1.85v0.75h-1.85zM468.35 332.55h1.85v0.75h-1.85zM471.81 332.55h1.85v0.75h-1.85zM475.27 332.55h1.85v0.75h-1.85zM478.73 332.55h1.27v0.75h-1.27z" fill="#b0b0b0"/>
<path d="M454.40 210.20h0.16v0.05h-0.16zM456.72 210.20h1.30v0.05h-1.30zM460.18 210.20h1.30v0.05h-1.30zM463.64 210.20h1.30v0.05h-1.30zM467.10 210.20h1.30v0.05h-1.30zM470.56 210.20h1.30v0.05h-1.30zM474.02 210.20h1.30v0.05h-1.30zM477.48 210.20h1.30v0.05h-1.30zM454.40 211.65h0.16v1.15h-0.16zM456.72 211.65h1.30v1.15h-1.30zM460.18 211.65h1.30v1.15h-1.30zM463.64 211.65h1.30v1.15h-1.30zM467.10 211.65h1.30v1.15h-1.30zM470.56 211.65h1.30v1.15h-1.30zM474.02 211.65h1.30v1.15h-1.30zM477.48 211.65h1.30v1.15h-1.30zM454.40 214.20h0.16v1.15h-0.16zM456.72 214.20h1.30v1.15h-1.30zM460.18 214.20h1.30v1.15h-1.30zM463.64 214.20h1.30v1.15h-1.30zM467.10 214.20h1.30v1.15h-1.30zM470.56 214.20h1.30v1.15h-1.30zM474.02 214.20h1.30v1.15h-1.30zM477.48 214.20h1.30v1.15h-1.30zM454.40 216.75h0.16v1.15h-0.16zM456.72 216.75h1.30v1.15h-1.30zM460.18 216.75h1.30v1.15h-1.30zM463.64 216.75h1.30v1.15h-1.30zM467.10 216.75h1.30v1.15h-1.30zM470.56 216.75h1.30v1.15h-1.30zM474.02 216.75h1.30v1.15h-1.30zM477.48 216.75h1.30v1.15h-1.30zM454.40 219.30h0.16v1.15h-0.16zM456.72 219.30h1.30v1.15h-1.30zM460.18 219.30h1.30v1.15h-1.30zM463.64 219.30h1.30v1.15h-1.30zM467.10 219.30h1.30v1.15h-1.30zM470.56 219.30h1.30v1.15h-1.30zM474.02 219.30h1.30v1.15h-1.30zM477.48 219.30h1.30v1.15h-1.30zM454.40 221.85h0.16v1.15h-0.16zM456.72 221.85h1.30v1.15h-1.30zM460.18 221.85h1.30v1.15h-1.30zM463.64 221.85h1.30v1.15h-1.30zM467.10 221.85h1.30v1.15h-1.30zM470.56 221.85h1.30v1.15h-1.30zM474.02 221.85h1.30v1.15h-1.30zM477.48 221.85h1.30v1.15h-1.30zM454.40 224.40h0.16v1.15h-0.16zM456.72 224.40h1.30v1.15h-1.30zM460.18 224.40h1.30v1.15h-1.30zM463.64 224.40h1.30v1.15h-1.30zM467.10 224.40h1.30v1.15h-1.30zM470.56 224.40h1.30v1.15h-1.30zM474.02 224.40h1.30v1.15h-1.30zM477.48 224.40h1.30v1.15h-1.30zM454.40 226.95h0.16v1.15h-0.16zM456.72 226.95h1.30v1.15h-1.30zM460.18 226.95h1.30v1.15h-1.30zM463.64 226.95h1.30v1.15h-1.30zM467.10 226.95h1.30v1.15h-1.30zM470.56 226.95h1.30v1.15h-1.30zM474.02 226.95h1.30v1.15h-1.30zM477.48 226.95h1.30v1.15h-1.30zM454.40 229.50h0.16v1.15h-0.16zM456.72 229.50h1.30v1.15h-1.30zM460.18 229.50h1.30v1.15h-1.30zM463.64 229.50h1.30v1.15h-1.30zM467.10 229.50h1.30v1.15h-1.30zM470.56 229.50h1.30v1.15h-1.30zM474.02 229.50h1.30v1.15h-1.30zM477.48 229.50h1.30v1.15h-1.30zM454.40 232.05h0.16v1.15h-0.16zM456.72 232.05h1.30v1.15h-1.30zM460.18 232.05h1.30v1.15h-1.30zM463.64 232.05h1.30v1.15h-1.30zM467.10 232.05h1.30v1.15h-1.30zM470.56 232.05h1.30v1.15h-1.30zM474.02 232.05h1.30v1.15h-1.30zM477.48 232.05h1.30v1.15h-1.30zM454.40 234.60h0.16v1.15h-0.16zM456.72 234.60h1.30v1.15h-1.30zM460.18 234.60h1.30v1.15h-1.30zM463.64 234.60h1.30v1.15h-1.30zM467.10 234.60h1.30v1.15h-1.30zM470.56 234.60h1.30v1.15h-1.30zM474.02 234.60h1.30v1.15h-1.30zM477.48 234.60h1.30v1.15h-1.30zM454.40 237.15h0.16v1.15h-0.16zM456.72 237.15h1.30v1.15h-1.30zM460.18 237.15h1.30v1.15h-1.30zM463.64 237.15h1.30v1.15h-1.30zM467.10 237.15h1.30v1.15h-1.30zM470.56 237.15h1.30v1.15h-1.30zM474.02 237.15h1.30v1.15h-1.30zM477.48 237.15h1.30v1.15h-1.30zM454.40 239.70h0.16v1.15h-0.16zM456.72 239.70h1.30v1.15h-1.30zM460.18 239.70h1.30v1.15h-1.30zM463.64 239.70h1.30v1.15h-1.30zM467.10 239.70h1.30v1.15h-1.30zM470.56 239.70h1.30v1.15h-1.30zM474.02 239.70h1.30v1.15h-1.30zM477.48 239.70h1.30v1.15h-1.30zM454.40 242.25h0.16v1.15h-0.16zM456.72 242.25h1.30v1.15h-1.30zM460.18 242.25h1.30v1.15h-1.30zM463.64 242.25h1.30v1.15h-1.30zM467.10 242.25h1.30v1.15h-1.30zM470.56 242.25h1.30v1.15h-1.30zM474.02 242.25h1.30v1.15h-1.30zM477.48 242.25h1.30v1.15h-1.30zM454.40 244.80h0.16v1.15h-0.16zM456.72 244.80h1.30v1.15h-1.30zM460.18 244.80h1.30v1.15h-1.30zM463.64 244.80h1.30v1.15h-1.30zM467.10 244.80h1.30v1.15h-1.30zM470.56 244.80h1.30v1.15h-1.30zM474.02 244.80h1.30v1.15h-1.30zM477.48 244.80h1.30v1.15h-1.30zM454.40 247.35h0.16v1.15h-0.16zM456.72 247.35h1.30v1.15h-1.30zM460.18 247.35h1.30v1.15h-1.30zM463.64 247.35h1.30v1.15h-1.30zM467.10 247.35h1.30v1.15h-1.30zM470.56 247.35h1.30v1.15h-1.30zM474.02 247.35h1.30v1.15h-1.30zM477.48 247.35h1.30v1.15h-1.30zM454.40 249.90h0.16v1.15h-0.16zM456.72 249.90h1.30v1.15h-1.30zM460.18 249.90h1.30v1.15h-1.30zM463.64 249.90h1.30v1.15h-1.30zM467.10 249.90h1.30v1.15h-1.30zM470.56 249.90h1.30v1.15h-1.30zM474.02 249.90h1.30v1.15h-1.30zM477.48 249.90h1.30v1.15h-1.30zM454.40 252.45h0.16v1.15h-0.16zM456.72 252.45h1.30v1.15h-1.30zM460.18 252.45h1.30v1.15h-1.30zM463.64 252.45h1.30v1.15h-1.30zM467.10 252.45h1.30v1.15h-1.30zM470.56 252.45h1.30v1.15h-1.30zM474.02 252.45h1.30v1.15h-1.30zM477.48 252.45h1.30v1.15h-1.30zM454.40 255.00h0.16v1.15h-0.16zM456.72 255.00h1.30v1.15h-1.30zM460.18 255.00h1.30v1.15h-1.30zM463.64 255.00h1.30v1.15h-1.30zM467.10 255.00h1.30v1.15h-1.30zM470.56 255.00h1.30v1.15h-1.30zM474.02 255.00h1.30v1.15h-1.30zM477.48 255.00h1.30v1.15h-1.30zM454.40 257.55h0.16v1.15h-0.16zM456.72 257.55h1.30v1.15h-1.30zM460.18 257.55h1.30v1.15h-1.30zM463.64 257.55h1.30v1.15h-1.30zM467.10 257.55h1.30v1.15h-1.30zM470.56 257.55h1.30v1.15h-1.30zM474.02 257.55h1.30v1.15h-1.30zM477.48 257.55h1.30v1.15h-1.30zM454.40 260.10h0.16v1.15h-0.16zM456.72 260.10h1.30v1.15h-1.30zM460.18 260.10h1.30v1.15h-1.30zM463.64 260.10h1.30v1.15h-1.30zM467.10 260.10h1.30v1.15h-1.30zM470.56 260.10h1.30v1.15h-1.30zM474.02 260.10h1.30v1.15h-1.30zM477.48 260.10h1.30v1.15h-1.30zM454.40 262.65h0.16v1.15h-0.16zM456.72 262.65h1.30v1.15h-1.30zM460.18 262.65h1.30v1.15h-1.30zM463.64 262.65h1.30v1.15h-1.30zM467.10 262.65h1.30v1.15h-1.30zM470.56 262.65h1.30v1.15h-1.30zM474.02 262.65h1.30v1.15h-1.30zM477.48 262.65h1.30v1.15h-1.30zM454.40 265.20h0.16v1.15h-0.16zM456.72 265.20h1.30v1.15h-1.30zM460.18 265.20h1.30v1.15h-1.30zM463.64 265.20h1.30v1.15h-1.30zM467.10 265.20h1.30v1.15h-1.30zM470.56 265.20h1.30v1.15h-1.30zM474.02 265.20h1.30v1.15h-1.30zM477.48 265.20h1.30v1.15h-1.30zM454.40 267.75h0.16v1.15h-0.16zM456.72 267.75h1.30v1.15h-1.30zM460.18 267.75h1.30v1.15h-1.30zM463.64 267.75h1.30v1.15h-1.30zM467.10 267.75h1.30v1.15h-1.30zM470.56 267.75h1.30v1.15h-1.30zM474.02 267.75h1.30v1.15h-1.30zM477.48 267.75h1.30v1.15h-1.30zM454.40 270.30h0.16v1.15h-0.16zM456.72 270.30h1.30v1.15h-1.30zM460.18 270.30h1.30v1.15h-1.30zM463.64 270.30h1.30v1.15h-1.30zM467.10 270.30h1.30v1.15h-1.30zM470.56 270.30h1.30v1.15h-1.30zM474.02 270.30h1.30v1.15h-1.30zM477.48 270.30h1.30v1.15h-1.30zM454.40 272.85h0.16v1.15h-0.16zM456.72 272.85h1.30v1.15h-1.30zM460.18 272.85h1.30v1.15h-1.30zM463.64 272.85h1.30v1.15h-1.30zM467.10 272.85h1.30v1.15h-1.30zM470.56 272.85h1.30v1.15h-1.30zM474.02 272.85h1.30v1.15h-1.30zM477.48 272.85h1.30v1.15h-1.30zM454.40 275.40h0.16v1.15h-0.16zM456.72 275.40h1.30v1.15h-1.30zM460.18 275.40h1.30v1.15h-1.30zM463.64 275.40h1.30v1.15h-1.30zM467.10 275.40h1.30v1.15h-1.30zM470.56 275.40h1.30v1.15h-1.30zM474.02 275.40h1.30v1.15h-1.30zM477.48 275.40h1.30v1.15h-1.30zM454.40 277.95h0.16v1.15h-0.16zM456.72 277.95h1.30v1.15h-1.30zM460.18 277.95h1.30v1.15h-1.30zM463.64 277.95h1.30v1.15h-1.30zM467.10 277.95h1.30v1.15h-1.30zM470.56 277.95h1.30v1.15h-1.30zM474.02 277.95h1.30v1.15h-1.30zM477.48 277.95h1.30v1.15h-1.30zM454.40 280.50h0.16v1.15h-0.16zM456.72 280.50h1.30v1.15h-1.30zM460.18 280.50h1.30v1.15h-1.30zM463.64 280.50h1.30v1.15h-1.30zM467.10 280.50h1.30v1.15h-1.30zM470.56 280.50h1.30v1.15h-1.30zM474.02 280.50h1.30v1.15h-1.30zM477.48 280.50h1.30v1.15h-1.30zM454.40 283.05h0.16v1.15h-0.16zM456.72 283.05h1.30v1.15h-1.30zM460.18 283.05h1.30v1.15h-1.30zM463.64 283.05h1.30v1.15h-1.30zM467.10 283.05h1.30v1.15h-1.30zM470.56 283.05h1.30v1.15h-1.30zM474.02 283.05h1.30v1.15h-1.30zM477.48 283.05h1.30v1.15h-1.30zM454.40 285.60h0.16v1.15h-0.16zM456.72 285.60h1.30v1.15h-1.30zM460.18 285.60h1.30v1.15h-1.30zM463.64 285.60h1.30v1.15h-1.30zM467.10 285.60h1.30v1.15h-1.30zM470.56 285.60h1.30v1.15h-1.30zM474.02 285.60h1.30v1.15h-1.30zM477.48 285.60h1.30v1.15h-1.30zM454.40 288.15h0.16v1.15h-0.16zM456.72 288.15h1.30v1.15h-1.30zM460.18 288.15h1.30v1.15h-1.30zM463.64 288.15h1.30v1.15h-1.30zM467.10 288.15h1.30v1.15h-1.30zM470.56 288.15h1.30v1.15h-1.30zM474.02 288.15h1.30v1.15h-1.30zM477.48 288.15h1.30v1.15h-1.30zM454.40 290.70h0.16v1.15h-0.16zM456.72 290.70h1.30v1.15h-1.30zM460.18 290.70h1.30v1.15h-1.30zM463.64 290.70h1.30v1.15h-1.30zM467.10 290.70h1.30v1.15h-1.30zM470.56 290.70h1.30v1.15h-1.30zM474.02 290.70h1.30v1.15h-1.30zM477.48 290.70h1.30v1.15h-1.30zM454.40 293.25h0.16v1.15h-0.16zM456.72 293.25h1.30v1.15h-1.30zM460.18 293.25h1.30v1.15h-1.30zM463.64 293.25h1.30v1.15h-1.30zM467.10 293.25h1.30v1.15h-1.30zM470.56 293.25h1.30v1.15h-1.30zM474.02 293.25h1.30v1.15h-1.30zM477.48 293.25h1.30v1.15h-1.30zM454.40 295.80h0.16v1.15h-0.16zM456.72 295.80h1.30v1.15h-1.30zM460.18 295.80h1.30v1.15h-1.30zM463.64 295.80h1.30v1.15h-1.30zM467.10 295.80h1.30v1.15h-1.30zM470.56 295.80h1.30v1.15h-1.30zM474.02 295.80h1.30v1.15h-1.30zM477.48 295.80h1.30v1.15h-1.30zM454.40 298.35h0.16v1.15h-0.16zM456.72 298.35h1.30v1.15h-1.30zM460.18 298.35h1.30v1.15h-1.30zM463.64 298.35h1.30v1.15h-1.30zM467.10 298.35h1.30v1.15h-1.30zM470.56 298.35h1.30v1.15h-1.30zM474.02 298.35h1.30v1.15h-1.30zM477.48 298.35h1.30v1.15h-1.30zM454.40 300.90h0.16v1.15h-0.16zM456.72 300.90h1.30v1.15h-1.30zM460.18 300.90h1.30v1.15h-1.30zM463.64 300.90h1.30v1.15h-1.30zM467.10 300.90h1.30v1.15h-1.30zM470.56 300.90h1.30v1.15h-1.30zM474.02 300.90h1.30v1.15h-1.30zM477.48 300.90h1.30v1.15h-1.30zM454.40 303.45h0.16v1.15h-0.16zM456.72 303.45h1.30v1.15h-1.30zM460.18 303.45h1.30v1.15h-1.30zM463.64 303.45h1.30v1.15h-1.30zM467.10 303.45h1.30v1.15h-1.30zM470.56 303.45h1.30v1.15h-1.30zM474.02 303.45h1.30v1.15h-1.30zM477.48 303.45h1.30v1.15h-1.30zM454.40 306.00h0.16v1.15h-0.16zM456.72 306.00h1.30v1.15h-1.30zM460.18 306.00h1.30v1.15h-1.30zM463.64 306.00h1.30v1.15h-1.30zM467.10 306.00h1.30v1.15h-1.30zM470.56 306.00h1.30v1.15h-1.30zM474.02 306.00h1.30v1.15h-1.30zM477.48 306.00h1.30v1.15h-1.30zM454.40 308.55h0.16v1.15h-0.16zM456.72 308.55h1.30v1.15h-1.30zM460.18 308.55h1.30v1.15h-1.30zM463.64 308.55h1.30v1.15h-1.30zM467.10 308.55h1.30v1.15h-1.30zM470.56 308.55h1.30v1.15h-1.30zM474.02 308.55h1.30v1.15h-1.30zM477.48 308.55h1.30v1.15h-1.30zM454.40 311.10h0.16v1.15h-0.16zM456.72 311.10h1.30v1.15h-1.30zM460.18 311.10h1.30v1.15h-1.30zM463.64 311.10h1.30v1.15h-1.30zM467.10 311.10h1.30v1.15h-1.30zM470.56 311.10h1.30v1.15h-1.30zM474.02 311.10h1.30v1.15h-1.30zM477.48 311.10h1.30v1.15h-1.30zM454.40 313.65h0.16v1.15h-0.16zM456.72 313.65h1.30v1.15h-1.30zM460.18 313.65h1.30v1.15h-1.30zM463.64 313.65h1.30v1.15h-1.30zM467.10 313.65h1.30v1.15h-1.30zM470.56 313.65h1.30v1.15h-1.30zM474.02 313.65h1.30v1.15h-1.30zM477.48 313.65h1.30v1.15h-1.30zM454.40 316.20h0.16v1.15h-0.16zM456.72 316.20h1.30v1.15h-1.30zM460.18 316.20h1.30v1.15h-1.30zM463.64 316.20h1.30v1.15h-1.30zM467.10 316.20h1.30v1.15h-1.30zM470.56 316.20h1.30v1.15h-1.30zM474.02 316.20h1.30v1.15h-1.30zM477.48 316.20h1.30v1.15h-1.30zM454.40 318.75h0.16v1.15h-0.16zM456.72 318.75h1.30v1.15h-1.30zM460.18 318.75h1.30v1.15h-1.30zM463.64 318.75h1.30v1.15h-1.30zM467.10 318.75h1.30v1.15h-1.30zM470.56 318.75h1.30v1.15h-1.30zM474.02 318.75h1.30v1.15h-1.30zM477.48 318.75h1.30v1.15h-1.30zM454.40 321.30h0.16v1.15h-0.16zM456.72 321.30h1.30v1.15h-1.30zM460.18 321.30h1.30v1.15h-1.30zM463.64 321.30h1.30v1.15h-1.30zM467.10 321.30h1.30v1.15h-1.30zM470.56 321.30h1.30v1.15h-1.30zM474.02 321.30h1.30v1.15h-1.30zM477.48 321.30h1.30v1.15h-1.30zM454.40 323.85h0.16v1.15h-0.16zM456.72 323.85h1.30v1.15h-1.30zM460.18 323.85h1.30v1.15h-1.30zM463.64 323.85h1.30v1.15h-1.30zM467.10 323.85h1.30v1.15h-1.30zM470.56 323.85h1.30v1.15h-1.30zM474.02 323.85h1.30v1.15h-1.30zM477.48 323.85h1.30v1.15h-1.30zM454.40 326.40h0.16v1.15h-0.16zM456.72 326.40h1.30v1.15h-1.30zM460.18 326.40h1.30v1.15h-1.30zM463.64 326.40h1.30v1.15h-1.30zM467.10 326.40h1.30v1.15h-1.30zM470.56 326.40h1.30v1.15h-1.30zM474.02 326.40h1.30v1.15h-1.30zM477.48 326.40h1.30v1.15h-1.30zM454.40 328.95h0.16v1.15h-0.16zM456.72 328.95h1.30v1.15h-1.30zM460.18 328.95h1.30v1.15h-1.30zM463.64 328.95h1.30v1.15h-1.30zM467.10 328.95h1.30v1.15h-1.30zM470.56 328.95h1.30v1.15h-1.30zM474.02 328.95h1.30v1.15h-1.30zM477.48 328.95h1.30v1.15h-1.30zM454.40 331.50h0.16v1.15h-0.16zM456.72 331.50h1.30v1.15h-1.30zM460.18 331.50h1.30v1.15h-1.30zM463.64 331.50h1.30v1.15h-1.30zM467.10 331.50h1.30v1.15h-1.30zM470.56 331.50h1.30v1.15h-1.30zM474.02 331.50h1.30v1.15h-1.30zM477.48 331.50h1.30v1.15h-1.30z" fill="#000"/>
<rect x="454.40" y="210.20" width="25.60" height="123.10" fill="none" stroke="#000" stroke-width="2.4"/>
<path d="M93.9 191.2H100.9M93.9 192.6H100.9M97.4 191.2V192.6" stroke="#000" stroke-width="1.5" fill="none"/>
<path d="M124.1 121.7H131.1M127.6 121.7V123.5" stroke="#000" stroke-width="1.4" fill="none"/>
<path d="M262.6 111.6H269.6M266.1 111.6V113.5" stroke="#000" stroke-width="1.4" fill="none"/>
<path d="M372.2 175.9H379.40000000000003M372.2 181.7H379.40000000000003M375.8 175.9V181.7" stroke="#000" stroke-width="1.5" fill="none"/>
<path d="M402.25 100.0H409.65M405.95 100.0V104.0" stroke="#000" stroke-width="1.5" fill="none"/>
<rect x="72.95" y="60.4" width="418.25" height="272.90" fill="none" stroke="#000" stroke-width="3.4"/>
<line x1="211.8" x2="211.8" y1="327.8" y2="333.3" stroke="#000" stroke-width="1.6"/>
<line x1="351.6" x2="351.6" y1="327.8" y2="333.3" stroke="#000" stroke-width="1.6"/>
<path d="M73.35 60V3.8H491.9V60M212.4 3.8V60M351.8 3.8V60" fill="none" stroke="#000" stroke-width="2.4"/>
<text x="142.3" y="26.8" font-family="&quot;Liberation Sans&quot;, sans-serif" font-size="11.5" font-weight="bold" text-anchor="middle" textLength="89.6" lengthAdjust="spacingAndGlyphs" stroke="#000" stroke-width="0.25" fill="#000">DIET—INDUCED</text>
<text x="142.5" y="40.8" font-family="&quot;Liberation Sans&quot;, sans-serif" font-size="11.5" font-weight="bold" text-anchor="middle" textLength="51.8" lengthAdjust="spacingAndGlyphs" stroke="#000" stroke-width="0.25" fill="#000">OBESITY</text>
<text x="282.6" y="26.8" font-family="&quot;Liberation Sans&quot;, sans-serif" font-size="11.5" font-weight="bold" text-anchor="middle" textLength="88.3" lengthAdjust="spacingAndGlyphs" stroke="#000" stroke-width="0.25" fill="#000">WEIGHT—LOSS</text>
<text x="283.4" y="40.8" font-family="&quot;Liberation Sans&quot;, sans-serif" font-size="11.5" font-weight="bold" text-anchor="middle" textLength="113.7" lengthAdjust="spacingAndGlyphs" stroke="#000" stroke-width="0.25" fill="#000">INTERVENTION (WL)</text>
<text x="421.0" y="26.8" font-family="&quot;Liberation Sans&quot;, sans-serif" font-size="11.5" font-weight="bold" text-anchor="middle" textLength="87.9" lengthAdjust="spacingAndGlyphs" stroke="#000" stroke-width="0.25" fill="#000">LOST—WEIGHT</text>
<text x="421.1" y="40.8" font-family="&quot;Liberation Sans&quot;, sans-serif" font-size="11.5" font-weight="bold" text-anchor="middle" textLength="113.8" lengthAdjust="spacingAndGlyphs" stroke="#000" stroke-width="0.25" fill="#000">MAINTENANCE (WM)</text>
<text x="56.6" y="338.5" font-family="&quot;Liberation Sans&quot;, sans-serif" font-size="14.3" font-weight="normal" text-anchor="end" textLength="7.9" lengthAdjust="spacingAndGlyphs" stroke="#000" stroke-width="0.3" fill="#000">0</text>
<text x="56.6" y="308.178" font-family="&quot;Liberation Sans&quot;, sans-serif" font-size="14.3" font-weight="normal" text-anchor="end" textLength="23.9" lengthAdjust="spacingAndGlyphs" stroke="#000" stroke-width="0.3" fill="#000">100</text>
<text x="56.6" y="277.856" font-family="&quot;Liberation Sans&quot;, sans-serif" font-size="14.3" font-weight="normal" text-anchor="end" textLength="23.9" lengthAdjust="spacingAndGlyphs" stroke="#000" stroke-width="0.3" fill="#000">200</text>
<text x="56.6" y="247.534" font-family="&quot;Liberation Sans&quot;, sans-serif" font-size="14.3" font-weight="normal" text-anchor="end" textLength="23.9" lengthAdjust="spacingAndGlyphs" stroke="#000" stroke-width="0.3" fill="#000">300</text>
<text x="56.6" y="217.212" font-family="&quot;Liberation Sans&quot;, sans-serif" font-size="14.3" font-weight="normal" text-anchor="end" textLength="23.9" lengthAdjust="spacingAndGlyphs" stroke="#000" stroke-width="0.3" fill="#000">400</text>
<text x="56.6" y="186.89000000000001" font-family="&quot;Liberation Sans&quot;, sans-serif" font-size="14.3" font-weight="normal" text-anchor="end" textLength="23.9" lengthAdjust="spacingAndGlyphs" stroke="#000" stroke-width="0.3" fill="#000">500</text>
<text x="56.6" y="156.568" font-family="&quot;Liberation Sans&quot;, sans-serif" font-size="14.3" font-weight="normal" text-anchor="end" textLength="23.9" lengthAdjust="spacingAndGlyphs" stroke="#000" stroke-width="0.3" fill="#000">600</text>
<text x="56.6" y="126.24600000000002" font-family="&quot;Liberation Sans&quot;, sans-serif" font-size="14.3" font-weight="normal" text-anchor="end" textLength="23.9" lengthAdjust="spacingAndGlyphs" stroke="#000" stroke-width="0.3" fill="#000">700</text>
<text x="56.6" y="95.92400000000002" font-family="&quot;Liberation Sans&quot;, sans-serif" font-size="14.3" font-weight="normal" text-anchor="end" textLength="23.9" lengthAdjust="spacingAndGlyphs" stroke="#000" stroke-width="0.3" fill="#000">800</text>
<text x="56.6" y="65.60200000000005" font-family="&quot;Liberation Sans&quot;, sans-serif" font-size="14.3" font-weight="normal" text-anchor="end" textLength="23.9" lengthAdjust="spacingAndGlyphs" stroke="#000" stroke-width="0.3" fill="#000">900</text>
<text transform="translate(15.7 233.8) rotate(-90)" font-family="&quot;Liberation Sans&quot;, sans-serif" font-size="14.9" stroke="#000" stroke-width="0.25" font-weight="bold" textLength="70.7" lengthAdjust="spacingAndGlyphs" fill="#000">Kcal/week</text>
<text x="142.1" y="358.3" font-family="&quot;Liberation Sans&quot;, sans-serif" font-size="13.5" font-weight="bold" text-anchor="middle" textLength="67.5" lengthAdjust="spacingAndGlyphs" stroke="#000" stroke-width="0.25" fill="#000">12 WEEKS</text>
<text x="281.4" y="358.3" font-family="&quot;Liberation Sans&quot;, sans-serif" font-size="13.5" font-weight="bold" text-anchor="middle" textLength="67.8" lengthAdjust="spacingAndGlyphs" stroke="#000" stroke-width="0.25" fill="#000">15 WEEKS</text>
<text x="420.7" y="358.3" font-family="&quot;Liberation Sans&quot;, sans-serif" font-size="13.5" font-weight="bold" text-anchor="middle" textLength="68.0" lengthAdjust="spacingAndGlyphs" stroke="#000" stroke-width="0.25" fill="#000">21 WEEKS</text>
<text x="236.1" y="177.1" font-family="&quot;Liberation Sans&quot;, sans-serif" font-size="11.8" font-weight="bold" text-anchor="middle" textLength="8.75" lengthAdjust="spacingAndGlyphs" stroke="#000" stroke-width="0.25" fill="#000">A</text>
<text x="266.6" y="102.3" font-family="&quot;Liberation Sans&quot;, sans-serif" font-size="11.8" font-weight="bold" text-anchor="middle" textLength="7.7" lengthAdjust="spacingAndGlyphs" stroke="#000" stroke-width="0.25" fill="#000">B</text>
<text x="297.85" y="234.3" font-family="&quot;Liberation Sans&quot;, sans-serif" font-size="11.8" font-weight="bold" text-anchor="middle" textLength="7.4" lengthAdjust="spacingAndGlyphs" stroke="#000" stroke-width="0.25" fill="#000">C</text>
<text x="327.65" y="249.2" font-family="&quot;Liberation Sans&quot;, sans-serif" font-size="11.8" font-weight="bold" text-anchor="middle" textLength="8.1" lengthAdjust="spacingAndGlyphs" stroke="#000" stroke-width="0.25" fill="#000">D</text>
<text x="375.7" y="168.1" font-family="&quot;Liberation Sans&quot;, sans-serif" font-size="11.8" font-weight="bold" text-anchor="middle" textLength="8.75" lengthAdjust="spacingAndGlyphs" stroke="#000" stroke-width="0.25" fill="#000">A</text>
<text x="405.7" y="92.9" font-family="&quot;Liberation Sans&quot;, sans-serif" font-size="11.8" font-weight="bold" text-anchor="middle" textLength="7.7" lengthAdjust="spacingAndGlyphs" stroke="#000" stroke-width="0.25" fill="#000">B</text>
<text x="437.2" y="199.1" font-family="&quot;Liberation Sans&quot;, sans-serif" font-size="11.8" font-weight="bold" text-anchor="middle" textLength="7.4" lengthAdjust="spacingAndGlyphs" stroke="#000" stroke-width="0.25" fill="#000">C</text>
<text x="467.2" y="199.1" font-family="&quot;Liberation Sans&quot;, sans-serif" font-size="11.8" font-weight="bold" text-anchor="middle" textLength="7.4" lengthAdjust="spacingAndGlyphs" stroke="#000" stroke-width="0.25" fill="#000">C</text>
<text x="128.2" y="113.5" font-family="&quot;Liberation Sans&quot;, sans-serif" font-size="10" font-weight="bold" text-anchor="middle" textLength="18.4" lengthAdjust="spacing" stroke="#000" stroke-width="1.5" stroke-linejoin="round" fill="#000">***</text>
<rect x="504.45" y="160.30" width="9.40" height="9.10" fill="#fff" stroke="#000" stroke-width="2.3"/>
<text x="517.4" y="169.54999999999998" font-family="&quot;Liberation Sans&quot;, sans-serif" font-size="14.2" font-weight="normal" text-anchor="start" textLength="16.5" lengthAdjust="spacingAndGlyphs" stroke="#000" stroke-width="0.3" fill="#000">SD</text>
<rect x="504.45" y="189.35" width="9.40" height="9.10" fill="#000" stroke="#000" stroke-width="2.3"/>
<text x="517.8" y="198.6" font-family="&quot;Liberation Sans&quot;, sans-serif" font-size="14.2" font-weight="normal" text-anchor="start" textLength="26.8" lengthAdjust="spacingAndGlyphs" stroke="#000" stroke-width="0.3" fill="#000">HFD</text>
<rect x="504.45" y="218.35" width="9.40" height="9.10" fill="#000" stroke="#000" stroke-width="2.3"/>
<path d="M505.7 220.50V226.40H512.0zM509.8 219.50H513.1V222.80z" fill="#fff"/>
<text x="517.8" y="227.6" font-family="&quot;Liberation Sans&quot;, sans-serif" font-size="14.2" font-weight="normal" text-anchor="start" textLength="21.9" lengthAdjust="spacingAndGlyphs" stroke="#000" stroke-width="0.3" fill="#000">sed</text>
<rect x="504.45" y="247.00" width="9.40" height="9.10" fill="#fff"/>
<path d="M504.45 247.00h0.33v1.15h-0.33zM506.39 247.00h1.85v1.15h-1.85zM509.85 247.00h1.85v1.15h-1.85zM513.31 247.00h0.54v1.15h-0.54zM504.45 249.45h0.33v1.25h-0.33zM506.39 249.45h1.85v1.25h-1.85zM509.85 249.45h1.85v1.25h-1.85zM513.31 249.45h0.54v1.25h-0.54zM504.45 252.00h0.33v1.25h-0.33zM506.39 252.00h1.85v1.25h-1.85zM509.85 252.00h1.85v1.25h-1.85zM513.31 252.00h0.54v1.25h-0.54zM504.45 254.55h0.33v1.25h-0.33zM506.39 254.55h1.85v1.25h-1.85zM509.85 254.55h1.85v1.25h-1.85zM513.31 254.55h0.54v1.25h-0.54z" fill="#b0b0b0"/>
<path d="M505.14 248.40h1.30v1.20h-1.30zM508.60 248.40h1.30v1.20h-1.30zM512.06 248.40h1.30v1.20h-1.30zM505.14 250.95h1.30v1.20h-1.30zM508.60 250.95h1.30v1.20h-1.30zM512.06 250.95h1.30v1.20h-1.30zM505.14 253.50h1.30v1.20h-1.30zM508.60 253.50h1.30v1.20h-1.30zM512.06 253.50h1.30v1.20h-1.30zM505.14 256.05h1.30v0.05h-1.30zM508.60 256.05h1.30v0.05h-1.30zM512.06 256.05h1.30v0.05h-1.30z" fill="#000"/>
<rect x="504.45" y="247.00" width="9.40" height="9.10" fill="none" stroke="#000" stroke-width="2.3"/>
<text x="517.8" y="256.25" font-family="&quot;Liberation Sans&quot;, sans-serif" font-size="14.2" font-weight="normal" text-anchor="start" textLength="22.5" lengthAdjust="spacingAndGlyphs" stroke="#000" stroke-width="0.3" fill="#000">exe</text>
<text x="276.4" y="385.8" font-family="&quot;Liberation Serif&quot;, serif" font-size="12.6" text-anchor="middle" fill="#000">(<tspan font-weight="bold">a</tspan>)</text>
</svg>
</body></html>
